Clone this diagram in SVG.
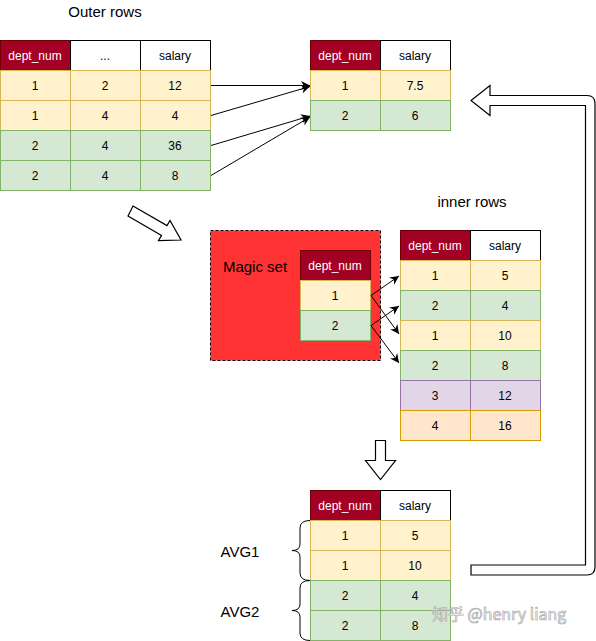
<svg xmlns="http://www.w3.org/2000/svg" width="596" height="641" viewBox="0 0 596 641">
<defs>
<style>
.t{font-family:"Liberation Sans",Arial,sans-serif;font-size:12px;text-anchor:middle;dominant-baseline:central;fill:#000}
.hw{fill:#fff}
.hand{font-family:"Comic Sans MS","Liberation Sans",sans-serif;font-size:15px;fill:#000}
.hd{fill:#a20025;stroke:#6f0000;stroke-width:1}
.wh{fill:#fff;stroke:#000;stroke-width:1}
.y{fill:#fff2cc;stroke:#d6b656;stroke-width:1}
.g{fill:#d5e8d4;stroke:#82b366;stroke-width:1}
.p{fill:#e1d5e7;stroke:#9673a6;stroke-width:1}
.o{fill:#ffe6cc;stroke:#d79b00;stroke-width:1}
.e{fill:none;stroke:#000;stroke-width:1}
.blk{fill:#fff;stroke:#000;stroke-width:1.2}
</style>
<marker id="ar" viewBox="0 0 10 10" refX="10" refY="5" markerWidth="9" markerHeight="9" markerUnits="userSpaceOnUse" orient="auto">
<path d="M0,0 L10,5 L0,10 L3,5 z" fill="#000"/>
</marker>
</defs>
<rect width="596" height="641" fill="#fff"/>

<text class="hand" x="105" y="17" text-anchor="middle" font-size="16.5">Outer rows</text>
<text class="hand" x="472" y="207" text-anchor="middle">inner rows</text>

<g id="outer">
<rect class="hd" x="0.5" y="40.5" width="70" height="30"/>
<rect class="wh" x="70.5" y="40.5" width="70" height="30"/>
<rect class="wh" x="140.5" y="40.5" width="70" height="30"/>
<text class="t hw" x="35" y="56">dept_num</text>
<text class="t" x="105" y="56">...</text>
<text class="t" x="175" y="56">salary</text>
<rect class="y" x="0.5" y="70.5" width="70" height="30"/><rect class="y" x="70.5" y="70.5" width="70" height="30"/><rect class="y" x="140.5" y="70.5" width="70" height="30"/>
<rect class="y" x="0.5" y="100.5" width="70" height="30"/><rect class="y" x="70.5" y="100.5" width="70" height="30"/><rect class="y" x="140.5" y="100.5" width="70" height="30"/>
<rect class="g" x="0.5" y="130.5" width="70" height="30"/><rect class="g" x="70.5" y="130.5" width="70" height="30"/><rect class="g" x="140.5" y="130.5" width="70" height="30"/>
<rect class="g" x="0.5" y="160.5" width="70" height="30"/><rect class="g" x="70.5" y="160.5" width="70" height="30"/><rect class="g" x="140.5" y="160.5" width="70" height="30"/>
<text class="t" x="35" y="86">1</text><text class="t" x="105" y="86">2</text><text class="t" x="175" y="86">12</text>
<text class="t" x="35" y="116">1</text><text class="t" x="105" y="116">4</text><text class="t" x="175" y="116">4</text>
<text class="t" x="35" y="146">2</text><text class="t" x="105" y="146">4</text><text class="t" x="175" y="146">36</text>
<text class="t" x="35" y="176">2</text><text class="t" x="105" y="176">4</text><text class="t" x="175" y="176">8</text>
</g>

<g id="result">
<rect class="hd" x="310.5" y="40.5" width="70" height="30"/>
<rect class="wh" x="380.5" y="40.5" width="70" height="30"/>
<text class="t hw" x="345" y="56">dept_num</text>
<text class="t" x="415" y="56">salary</text>
<rect class="y" x="310.5" y="70.5" width="70" height="30"/><rect class="y" x="380.5" y="70.5" width="70" height="30"/>
<rect class="g" x="310.5" y="100.5" width="70" height="30"/><rect class="g" x="380.5" y="100.5" width="70" height="30"/>
<text class="t" x="345" y="86">1</text><text class="t" x="415" y="86">7.5</text>
<text class="t" x="345" y="116">2</text><text class="t" x="415" y="116">6</text>
</g>

<g id="magic">
<rect x="210.5" y="230.5" width="170" height="130" fill="#ff3333" stroke="#000" stroke-width="1" stroke-dasharray="3,2"/>
<text class="hand" x="255" y="272" text-anchor="middle">Magic set</text>
<rect class="hd" x="300.5" y="250.5" width="70" height="30"/>
<text class="t hw" x="335" y="266">dept_num</text>
<rect class="y" x="300.5" y="280.5" width="70" height="30"/>
<rect class="g" x="300.5" y="310.5" width="70" height="30"/>
<text class="t" x="335" y="296">1</text>
<text class="t" x="335" y="326">2</text>
</g>

<g id="inner">
<rect class="hd" x="400.5" y="230.5" width="70" height="30"/>
<rect class="wh" x="470.5" y="230.5" width="70" height="30"/>
<text class="t hw" x="435" y="246">dept_num</text>
<text class="t" x="505" y="246">salary</text>
<rect class="y" x="400.5" y="260.5" width="70" height="30"/><rect class="y" x="470.5" y="260.5" width="70" height="30"/>
<rect class="g" x="400.5" y="290.5" width="70" height="30"/><rect class="g" x="470.5" y="290.5" width="70" height="30"/>
<rect class="y" x="400.5" y="320.5" width="70" height="30"/><rect class="y" x="470.5" y="320.5" width="70" height="30"/>
<rect class="g" x="400.5" y="350.5" width="70" height="30"/><rect class="g" x="470.5" y="350.5" width="70" height="30"/>
<rect class="p" x="400.5" y="380.5" width="70" height="30"/><rect class="p" x="470.5" y="380.5" width="70" height="30"/>
<rect class="o" x="400.5" y="410.5" width="70" height="30"/><rect class="o" x="470.5" y="410.5" width="70" height="30"/>
<text class="t" x="435" y="276">1</text><text class="t" x="505" y="276">5</text>
<text class="t" x="435" y="306">2</text><text class="t" x="505" y="306">4</text>
<text class="t" x="435" y="336">1</text><text class="t" x="505" y="336">10</text>
<text class="t" x="435" y="366">2</text><text class="t" x="505" y="366">8</text>
<text class="t" x="435" y="396">3</text><text class="t" x="505" y="396">12</text>
<text class="t" x="435" y="426">4</text><text class="t" x="505" y="426">16</text>
</g>

<g id="grouped">
<rect class="hd" x="310.5" y="490.5" width="70" height="30"/>
<rect class="wh" x="380.5" y="490.5" width="70" height="30"/>
<text class="t hw" x="345" y="506">dept_num</text>
<text class="t" x="415" y="506">salary</text>
<rect class="y" x="310.5" y="520.5" width="70" height="30"/><rect class="y" x="380.5" y="520.5" width="70" height="30"/>
<rect class="y" x="310.5" y="550.5" width="70" height="30"/><rect class="y" x="380.5" y="550.5" width="70" height="30"/>
<rect class="g" x="310.5" y="580.5" width="70" height="30"/><rect class="g" x="380.5" y="580.5" width="70" height="30"/>
<rect class="g" x="310.5" y="610.5" width="70" height="30"/><rect class="g" x="380.5" y="610.5" width="70" height="30"/>
<text class="t" x="345" y="536">1</text><text class="t" x="415" y="536">5</text>
<text class="t" x="345" y="566">1</text><text class="t" x="415" y="566">10</text>
<text class="t" x="345" y="596">2</text><text class="t" x="415" y="596">4</text>
<text class="t" x="345" y="626">2</text><text class="t" x="415" y="626">8</text>
</g>

<g id="avg1">
<path class="e" d="M310,520.5 Q300,520.5 300,528 L300,544 Q300,550.5 292,550.5 Q300,550.5 300,557 L300,573 Q300,580.5 310,580.5"/>
<text class="hand" x="240" y="557" text-anchor="middle">AVG1</text>
</g>
<g id="avg2">
<path class="e" d="M310,580.5 Q300,580.5 300,588 L300,604 Q300,610.5 292,610.5 Q300,610.5 300,617 L300,633 Q300,640.5 310,640.5"/>
<text class="hand" x="240" y="617" text-anchor="middle">AVG2</text>
</g>

<g id="connectors">
<line class="e" x1="211" y1="85.5" x2="310" y2="85.5" marker-end="url(#ar)"/>
<line class="e" x1="211" y1="115.5" x2="310" y2="86.5" marker-end="url(#ar)"/>
<line class="e" x1="211" y1="145.5" x2="310" y2="116" marker-end="url(#ar)"/>
<line class="e" x1="211" y1="175.5" x2="310" y2="117" marker-end="url(#ar)"/>
<line class="e" x1="371" y1="295.5" x2="399" y2="276" marker-end="url(#ar)"/>
<line class="e" x1="371" y1="295.5" x2="399" y2="334" marker-end="url(#ar)"/>
<line class="e" x1="371" y1="325.5" x2="399" y2="306" marker-end="url(#ar)"/>
<line class="e" x1="371" y1="325.5" x2="399" y2="363" marker-end="url(#ar)"/>
<path class="blk" d="M133,206 L167,225.6 L170,220.4 L181,240 L158.5,240.6 L161.5,235.4 L128,216 Z"/>
<path class="blk" d="M375.5,440.5 L385.5,440.5 L385.5,460.5 L395.5,460.5 L380.5,479.5 L365.5,460.5 L375.5,460.5 Z"/>
<path class="blk" d="M471,565 L585.5,565 L585.5,105.5 L490,105.5 L490,115.5 L471,100.5 L490,85.5 L490,95.5 L587,95.5 Q595,95.5 595,103.5 L595,567 Q595,575 587,575 L471,575 Z"/>
</g>

<text x="432" y="620" font-family="'Noto Sans CJK SC','Liberation Sans',sans-serif" font-size="16" fill="#fff" stroke="#aaa" stroke-width="0.7">知乎 @henry liang</text>
</svg>
